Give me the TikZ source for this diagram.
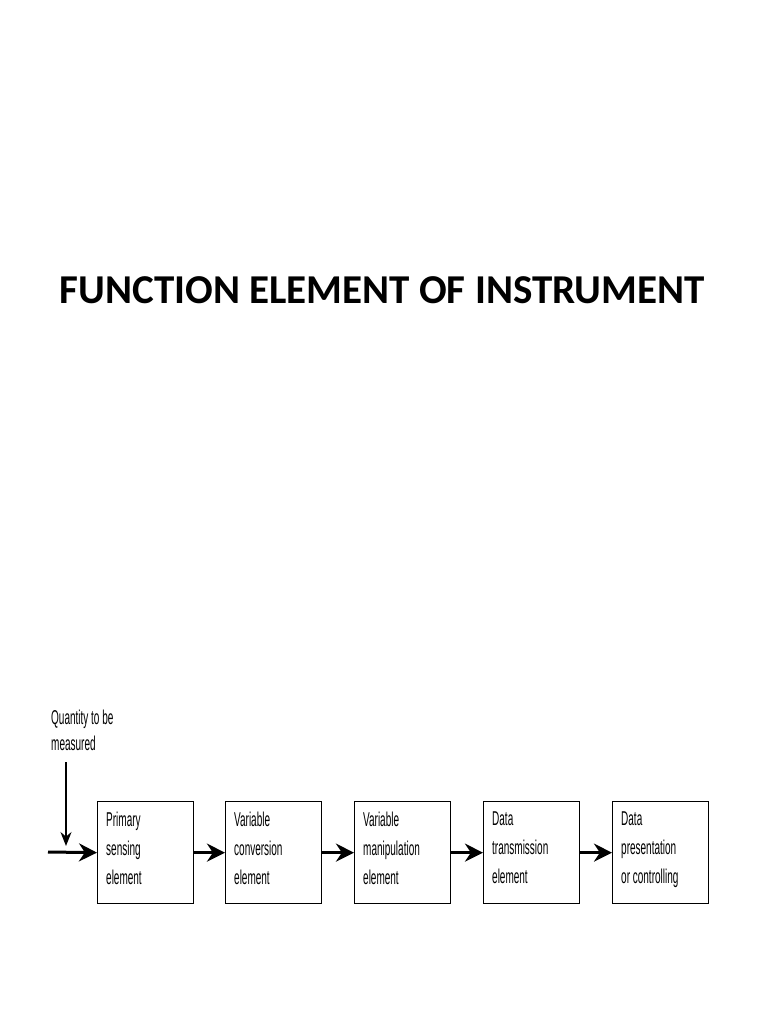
\documentclass[tikz,border=0pt]{standalone}
\usepackage{fontspec}
\setmainfont{Liberation Sans}[FakeStretch=0.5]
\newfontfamily\titlefont{Carlito}
\usetikzlibrary{arrows.meta}
\begin{document}
\begin{tikzpicture}[x=1pt,y=-1pt,
  blk/.style={draw, line width=1.3pt, minimum width=96pt, minimum height=102pt, anchor=north west, inner sep=0pt},
  lbl/.style={align=left, anchor=north west, font=\fontsize{20}{29}\selectfont, inner sep=0pt},
  flow/.style={line width=3pt, -{Stealth[length=18pt,width=18pt]}}]
\useasboundingbox (0,0) rectangle (768,1024);
\node[font=\titlefont\bfseries\fontsize{41}{46}\selectfont] (title) at (382,290) {FUNCTION ELEMENT OF INSTRUMENT};
\foreach \i/\x/\t in {1/97/{Primary\\sensing\\element},2/225/{Variable\\conversion\\element},3/354/{Variable\\manipulation\\element},4/483/{Data\\transmission\\element},5/612/{Data\\presentation\\or controlling}}{
  \node[blk] (b\i) at (\x,801) {};
  \node[lbl] (t\i) at (\x+9,812) {\t};
}
\coordinate (in) at (48,852);
\node[lbl, font=\fontsize{20}{26}\selectfont] (q) at (51,710) {Quantity to be\\measured};
\coordinate (qs) at (66,762);
\coordinate (qe) at (66,846);
\draw[line width=1.5pt, -{Stealth[length=14pt,width=11pt]}] (qs) -- (qe);
\draw[flow] (in) -- (b1.west);
\draw[flow] (b1.east) -- (b2.west);
\draw[flow] (b2.east) -- (b3.west);
\draw[flow] (b3.east) -- (b4.west);
\draw[flow] (b4.east) -- (b5.west);
\end{tikzpicture}
\end{document}
